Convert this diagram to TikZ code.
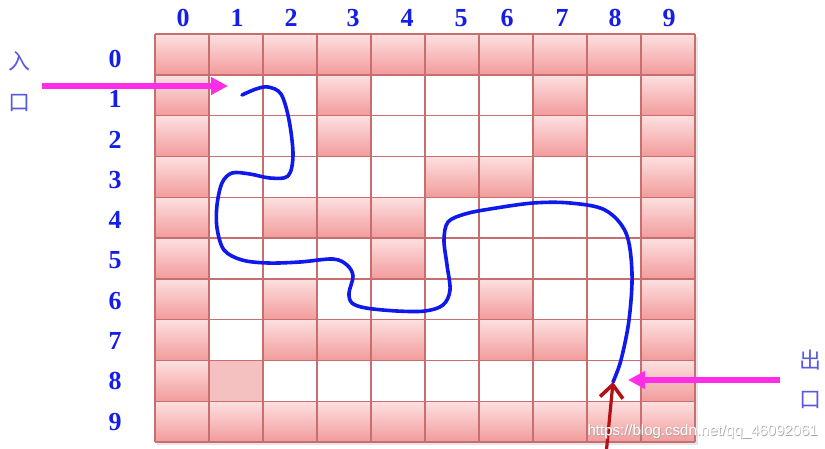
\documentclass[tikz,border=0pt]{standalone}
\usepackage{fontspec}
\setmainfont{Liberation Serif}
\newfontfamily\cjk{Noto Sans CJK SC}
\newfontfamily\wmfont{Liberation Sans}
\usetikzlibrary{arrows.meta}
\definecolor{wallTop}{RGB}{253,224,224}
\definecolor{wallBot}{RGB}{242,155,155}
\definecolor{gridc}{RGB}{200,110,110}
\definecolor{lblue}{RGB}{20,30,230}
\definecolor{cjkblue}{RGB}{90,90,225}
\definecolor{mag}{RGB}{255,45,230}
\definecolor{pathblue}{RGB}{15,25,235}
\definecolor{darkred}{RGB}{180,15,20}
\definecolor{special}{RGB}{244,192,192}
\begin{document}
\begin{tikzpicture}[x=1pt,y=-1pt,
  wall/.style={top color=wallTop,bottom color=wallBot},
  gridline/.style={draw=gridc,line width=1.4pt},
  numlabel/.style={text=lblue,font=\bfseries\fontsize{26}{26}\selectfont,inner sep=0pt},
  cjklabel/.style={text=cjkblue,font=\cjk\fontsize{22}{22}\selectfont,inner sep=0pt},
  magarrow/.style={draw=mag,line width=6.5pt,-{Triangle[length=17pt,width=17pt]}},
  route/.style={draw=pathblue,line width=3.6pt,line cap=round,line join=round},
  redarrow/.style={draw=darkred,line width=3.2pt,-{Straight Barb[length=13pt,width=23pt,line width=3.6pt]}}]
\useasboundingbox (0,0) rectangle (825,448);
\fill[white] (0,0) rectangle (825,448);
% shadow
\fill[black!10] (157,37) rectangle (698,445);
\fill[white] (155,34) rectangle (695,442);
% walls
\foreach \r/\cols in {0/{0,1,2,3,4,5,6,7,8,9},1/{0,3,7,9},2/{0,3,7,9},3/{0,5,6,9},4/{0,2,3,4,9},5/{0,4,9},6/{0,2,6,9},7/{0,2,3,4,6,7,9},8/{0,9},9/{0,1,2,3,4,5,6,7,8,9}}{
  \foreach \c in \cols {
    \shade[wall] ({155+54*\c},{34+40.8*\r}) rectangle ++(54,40.8);
  }
}
\fill[special] ({155+54},{34+40.8*8}) rectangle ++(54,40.8);
% grid
\foreach \i in {0,...,10}{
  \draw[gridline] ({155+54*\i},34) -- ({155+54*\i},442);
  \draw[gridline] (155,{34+40.8*\i}) -- (695,{34+40.8*\i});
}
% column labels
\foreach \c/\x in {0/183,1/237,2/291,3/353,4/407,5/461,6/507,7/562,8/615,9/669}{
  \node[numlabel] (col\c) at (\x,18) {\c};
}
% row labels
\foreach \r in {0,...,9}{
  \node[numlabel] (row\r) at (115,{59+40.3*\r}) {\r};
}
% chinese labels
\node[cjklabel] (ru) at (20,61) {入};
\node[cjklabel] (kou1) at (20,103) {口};
\node[cjklabel] (chu) at (810,360) {出};
\node[cjklabel] (kou2) at (810,400) {口};
% entrance / exit arrows
\coordinate (inStart) at (42,86);
\coordinate (inEnd) at (228,86);
\coordinate (outStart) at (780,380);
\coordinate (outEnd) at (628,380);
\draw[magarrow] (inStart) -- (inEnd);
\draw[magarrow] (outStart) -- (outEnd);
% route
\coordinate (pstart) at (242,95);
\coordinate (pend) at (613,382);
\draw[route] plot[smooth,tension=0.55] coordinates {(242,95) (256,89) (268,87) (281,94) (289,120) (293,155) (288,176) (270,178) (250,174) (232,173) (222,183) (217,205) (217,228) (224,250) (242,260) (268,263) (300,262) (333,259) (347,265) (353,276) (349,293) (352,303) (366,308) (397,311) (425,311) (443,305) (450,290) (447,265) (444,240) (448,222) (465,214) (490,209) (533,203) (570,203) (605,210) (626,233) (632,273) (629,320) (621,360) (613,382)};
% red arrow
\coordinate (rtail) at (606,455);
\draw[redarrow] (rtail) -- (pend);
% watermark
\node[text=black!35,font=\wmfont\fontsize{15}{15}\selectfont,inner sep=0pt,anchor=east] (wm0) at (818.7,432.7) {https://blog.csdn.net/qq\_46092061};
\node[text=white,font=\wmfont\fontsize{15}{15}\selectfont,inner sep=0pt,anchor=east] (wm) at (818,432) {https://blog.csdn.net/qq\_46092061};
\end{tikzpicture}
\end{document}
